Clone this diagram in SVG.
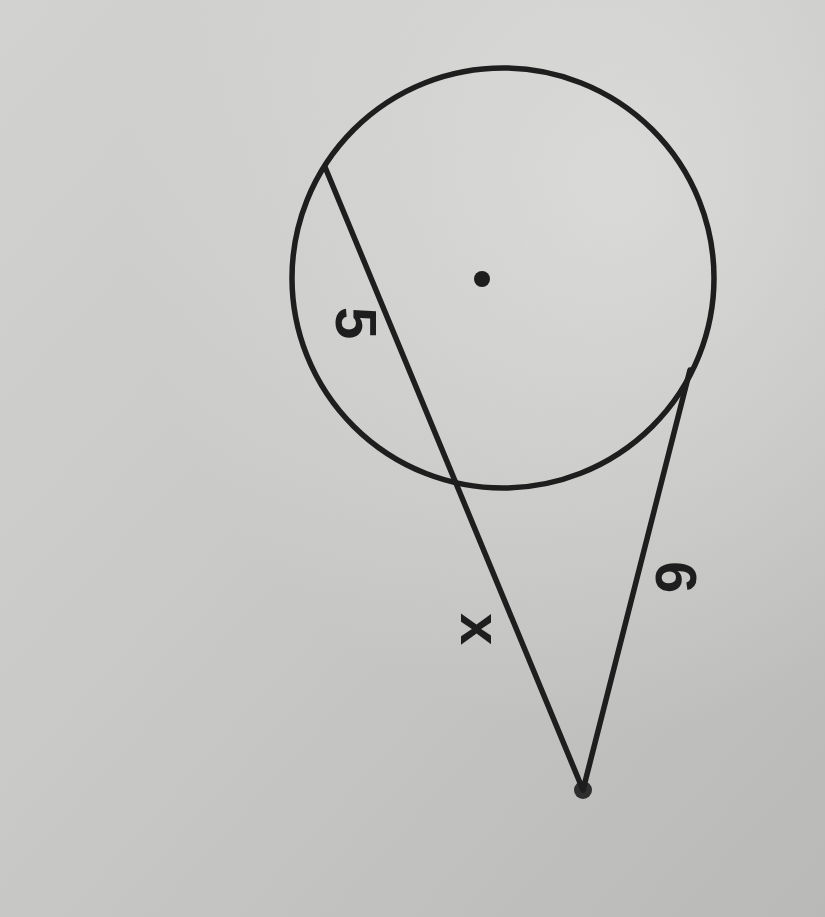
<svg xmlns="http://www.w3.org/2000/svg" width="825" height="917" viewBox="0 0 825 917">
  <defs>
    <linearGradient id="paper" x1="0" y1="0" x2="1" y2="1">
      <stop offset="0" stop-color="#d2d2d0"/>
      <stop offset="0.4" stop-color="#cacac8"/>
      <stop offset="1" stop-color="#b9b9b7"/>
    </linearGradient>
    <radialGradient id="light" cx="0.75" cy="0.2" r="0.6">
      <stop offset="0" stop-color="#dededc" stop-opacity="0.8"/>
      <stop offset="1" stop-color="#dededc" stop-opacity="0"/>
    </radialGradient>
  </defs>
  <style>
    .ink { fill: none; stroke: #1e1e1e; stroke-width: 5.5; stroke-linecap: round; }
    .dot { fill: #1e1e1e; }
    .lbl { font-family: "Liberation Sans", Arial, sans-serif; font-size: 58px; font-weight: bold; fill: #1e1e1e; text-anchor: middle; dominant-baseline: central; }
  </style>
  <rect width="825" height="917" fill="url(#paper)"/>
  <rect width="825" height="917" fill="url(#light)"/>

  <g id="circle">
    <ellipse class="ink" cx="503" cy="278" rx="211" ry="210"/>
  </g>
  <g id="center">
    <circle class="dot" cx="482" cy="279" r="8"/>
  </g>
  <g id="point-P">
    <circle class="dot" cx="583" cy="790" r="9" fill-opacity="0.9"/>
  </g>

  <g id="connectors">
    <line class="ink" x1="325" y1="167" x2="583" y2="790"/>
    <line class="ink" x1="690" y1="370" x2="583" y2="790"/>
  </g>

  <g id="labels">
    <text class="lbl" transform="translate(356,323) rotate(90)">5</text>
    <text class="lbl" transform="translate(481,629) rotate(90)">x</text>
    <text class="lbl" transform="translate(676,577) rotate(90)">6</text>
  </g>
</svg>
